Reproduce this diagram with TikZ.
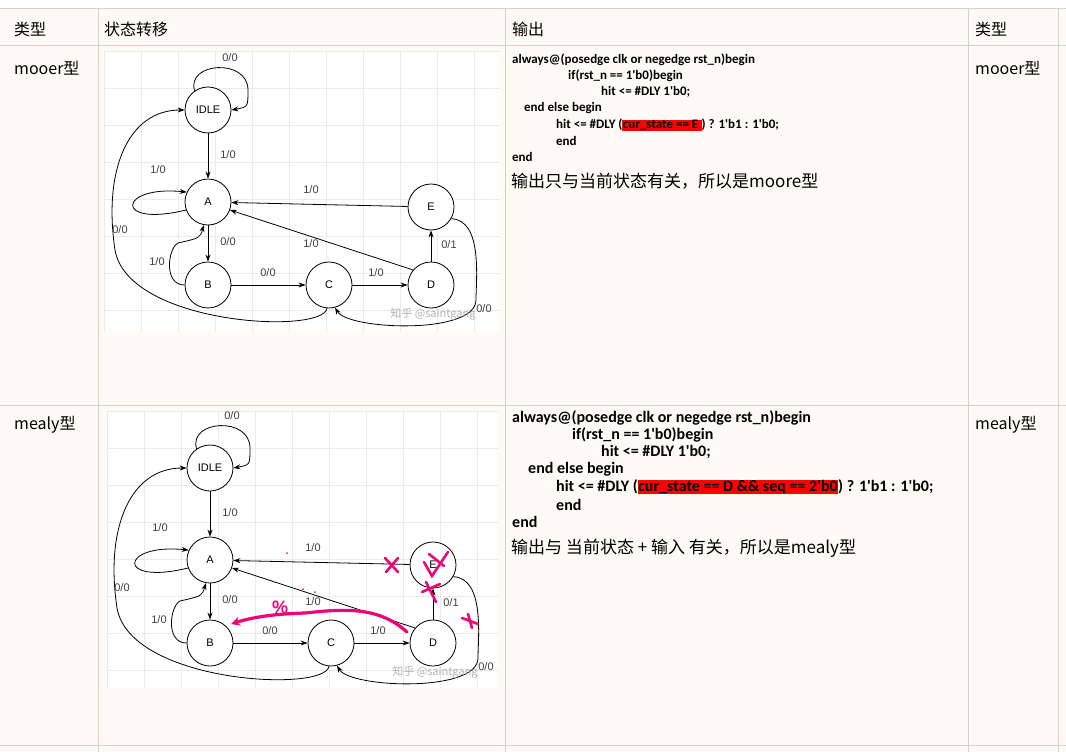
\documentclass[tikz,border=0pt]{standalone}
\usepackage{fontspec}
\setmainfont{Liberation Sans}
\newfontfamily\cjk{Noto Sans CJK SC}
\newfontfamily\code{Carlito}
\usetikzlibrary{arrows.meta}
\tikzset{
 st/.style={circle,draw,thick,minimum size=46pt,inner sep=0pt,font=\fontsize{11}{11}\selectfont,fill=white},
 arr/.style={-{Stealth[length=7pt,width=5pt]},thick},
 lab/.style={font=\fontsize{11}{11}\selectfont,text=black!75,inner sep=0pt},
 tline/.style={draw=black!18,line width=0.8pt},
 hd/.style={anchor=west,font=\cjk\fontsize{16}{16}\selectfont,inner sep=0pt},
 cd/.style={anchor=west,inner sep=0pt},
 pink/.style={draw=magenta!80!red,line width=2.6pt,line cap=round}
}
\newcommand{\fsm}[1]{%
\begin{scope}[shift={#1}]
 \node[st] (I) at (0,0) {IDLE};
 \node[st] (A) at (0,92) {A};
 \node[st] (B) at (0,175) {B};
 \node[st] (C) at (121,175) {C};
 \node[st] (D) at (223,175) {D};
 \node[st] (E) at (223,97) {E};
 \draw[arr] (I.125) .. controls (-22,-48) and (40,-52) .. (40,-20) .. controls (40,-3) .. (I.east);
 \node[lab] at (22,-52) {0/0};
 \draw[arr] (I) -- (A); \node[lab] at (20,45) {1/0};
 \draw[arr] (A.200) .. controls (-95,118) and (-90,75) .. (A.155);
 \node[lab] at (-50,60) {1/0};
 \draw[arr] (A) -- (B); \node[lab] at (20,132) {0/0};
 \draw[arr] (B.west) .. controls (-45,175) and (-40,138) .. (-30,133) .. controls (-8,128) .. (A.260);
 \node[lab] at (-51,152) {1/0};
 \draw[arr] (B) -- (C); \node[lab] at (60,163) {0/0};
 \draw[arr] (C) -- (D); \node[lab] at (168,163) {1/0};
 \draw[arr] (D) -- (E); \node[lab] at (241,135) {0/1};
 \draw[arr] (E) -- (A); \node[lab] at (103,80) {1/0};
 \draw[arr] (D.140) -- (A.-20); \node[lab] at (103,134) {1/0};
 \draw[arr] (C.-95) .. controls (115,225) and (-80,215) .. (-93,140) .. controls (-105,60) and (-80,0) .. (I.west);
 \node[lab] at (-88,120) {0/0};
 \draw[arr] (E.-30) .. controls (275,110) and (268,170) .. (268,190) .. controls (268,225) and (140,220) .. (C.-75);
 \node[lab] at (276,199) {0/0};
 \node[lab,text=black!30,font=\cjk\fontsize{11}{11}\selectfont] at (225,204) {知乎 @saintgang};
\end{scope}}
\begin{document}
\begin{tikzpicture}[x=1pt,y=-1pt]
\useasboundingbox (0,0) rectangle (1066,752);
\fill[white] (0,0) rectangle (1066,752);
\fill[yellow!8!orange!4] (0,8) rectangle (1066,752);
\foreach \y in {8,45,405,745} \draw[tline] (0,\y) -- (1066,\y);
\foreach \x in {98,505,968,1058} \draw[tline] (\x,8) -- (\x,752);
\node[hd] (h1) at (14,29) {类型};
\node[hd] (h2) at (104,29) {状态转移};
\node[hd] (h3) at (512,29) {输出};
\node[hd] (h4) at (975,29) {类型};
\node[hd] (r1) at (14,68) {mooer型};
\node[hd] (r2) at (975,68) {mooer型};
\node[hd] (r3) at (14,425) {mealy型};
\node[hd] (r4) at (975,425) {mealy型};
\begin{scope}
\clip (104,51) rectangle (500,331);
\fill[white] (104,51) rectangle (500,331);
\draw[black!8,step=37pt,shift={(104,51)}] (0,0) grid (400,290);
\end{scope}
\begin{scope}
\clip (107,411) rectangle (498,688);
\fill[white] (107,411) rectangle (498,688);
\draw[black!8,step=37pt,shift={(107,411)}] (0,0) grid (400,290);
\end{scope}
\begin{scope}[name prefix=m-] \fsm{(208,110)} \end{scope}
\begin{scope}[name prefix=n-] \fsm{(210,468)} \end{scope}
\begin{scope}[shift={(210,468)}]
 \draw[pink] (175,90) -- (188,104) (188,90) -- (176,104);
 \draw[pink] (214,94) -- (222,108) -- (238,84) (219,86) -- (234,98);
 \draw[pink] (212,124) -- (230,116) (216,114) -- (226,134);
 \draw[pink] (252,150) -- (268,156) (258,146) -- (262,160);
 \node[text=magenta!80!red,font=\bfseries\fontsize{18}{18}\selectfont,inner sep=0pt] (pc) at (70,139) {\%};
 \draw[pink,line width=3.2pt,-{Stealth[length=9pt,width=9pt]}] (197,164) .. controls (170,140) and (140,140) .. (95,145) .. controls (60,146) and (40,150) .. (21,156);
 \fill[magenta] (77,85) circle (1pt) (93,121) circle (1pt) (105,124) circle (1pt);
\end{scope}
\begin{scope}[font=\code\bfseries\fontsize{13}{13}\selectfont]
\node[cd] (c1) at (512,60) {always@(posedge clk or negedge rst\_n)begin};
\node[cd] (c2) at (568,76) {if(rst\_n == 1'b0)begin};
\node[cd] (c3) at (601,92) {hit <= \#DLY 1'b0;};
\node[cd] (c4) at (524,108) {end else begin};
\node[cd] (c5) at (556,125) {hit <= \#DLY ({\setlength{\fboxsep}{0.5pt}\colorbox{red}{cur\_state == E }}) ? 1'b1 : 1'b0;};
\node[cd] (c6) at (556,141) {end};
\node[cd] (c7) at (512,157) {end};
\end{scope}
\node[cd,font=\cjk\fontsize{17}{17}\selectfont] (t1) at (511,181) {输出只与当前状态有关，所以是moore型};
\begin{scope}[font=\code\bfseries\fontsize{16}{16}\selectfont]
\node[cd] (d1) at (512,418) {always@(posedge clk or negedge rst\_n)begin};
\node[cd] (d2) at (572,435) {if(rst\_n == 1'b0)begin};
\node[cd] (d3) at (601,452) {hit <= \#DLY 1'b0;};
\node[cd] (d4) at (528,469) {end else begin};
\node[cd] (d5) at (556,487) {hit <= \#DLY ({\setlength{\fboxsep}{0.5pt}\colorbox{red}{cur\_state == D \&\& seq == 2'b0}}) ? 1'b1 : 1'b0;};
\node[cd] (d6) at (556,505) {end};
\node[cd] (d7) at (512,522) {end};
\end{scope}
\node[cd,font=\cjk\fontsize{17}{17}\selectfont] (t2) at (511,548) {输出与 当前状态 + 输入 有关，所以是mealy型};
\end{tikzpicture}
\end{document}
